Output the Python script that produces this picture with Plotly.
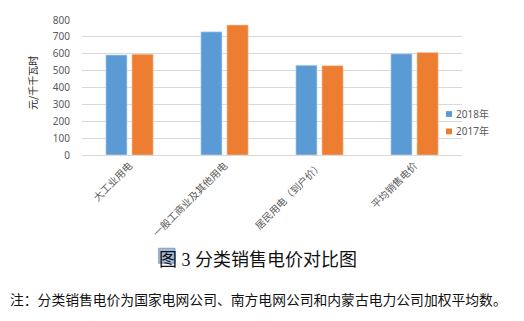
import plotly.graph_objects as go

categories = ["大工业用电", "一般工商业及其他用电", "居民用电（到户价）", "平均销售电价"]
values_2018 = [593, 730, 532, 600]
values_2017 = [597, 770, 529, 607]
series_names = ["2018年", "2017年"]
y_ticks = [0, 100, 200, 300, 400, 500, 600, 700, 800]

BLUE = "#5b9bd5"
ORANGE = "#ed7d31"
CJK = "Noto Sans CJK SC"

fig = go.Figure()
fig.add_trace(go.Bar(x=categories, y=values_2018, name=series_names[0], marker=dict(color=BLUE, line=dict(color="#cfe0f3", width=0.6)), showlegend=False))
fig.add_trace(go.Bar(x=categories, y=values_2017, name=series_names[1], marker=dict(color=ORANGE, line=dict(color="#f7c9aa", width=0.6)), showlegend=False))

W, H = 524, 321
L, R, T, B = 82, 62, 15, 166
ph = H - T - B
pw = W - L - R

def py(ypix):
    return (H - B - ypix) / ph

def px(xpix):
    return (xpix - L) / pw

fig.update_layout(
    width=W, height=H,
    margin=dict(l=L, r=R, t=T, b=B),
    paper_bgcolor="white", plot_bgcolor="white",
    barmode="group", bargap=0.45, bargroupgap=0.19,
    font=dict(family=CJK, color="#595959", size=10),
    showlegend=False,
    xaxis=dict(type="category", showgrid=False, showline=True, linecolor="#d9d9d9", linewidth=1,
               tickangle=-45, tickfont=dict(family=CJK, size=10, color="#595959"),
               ticks="", range=[-0.5, 3.5]),
    yaxis=dict(range=[0, 800], tickvals=y_ticks, showgrid=True, gridcolor="#d9d9d9", gridwidth=1,
               zeroline=False, showline=False, ticks="", ticklabelstandoff=11,
               tickfont=dict(family="Noto Sans", size=10, color="#595959")),
)

# legend (small squares + labels)
legend_colors = [BLUE, ORANGE]
for i, (nm, col) in enumerate(zip(series_names, legend_colors)):
    yc = 112.5 + 18 * i
    fig.add_shape(type="rect", xref="paper", yref="paper", x0=px(446), x1=px(452),
                  y0=py(yc + 3), y1=py(yc - 3), fillcolor=col, line=dict(width=0))
    fig.add_annotation(text=nm, xref="paper", yref="paper", x=px(453.5), y=py(yc),
                       showarrow=False, xanchor="left", yanchor="middle",
                       font=dict(family="Noto Sans, " + CJK, size=10, color="#595959"))

# y-axis title
fig.add_annotation(text="元/千千瓦时", xref="paper", yref="paper", x=px(33), y=py(80),
                   showarrow=False, textangle=-90, xanchor="center", yanchor="middle",
                   font=dict(family=CJK, size=10, color="#262626"))

# highlight box behind first char of caption
fig.add_shape(type="rect", xref="paper", yref="paper", x0=px(158.7), x1=px(175), y0=py(267.3), y1=py(251.7),
              fillcolor="#a3bcdc", line=dict(width=0.8, color="#6f8fb8"), layer="below")

# caption
fig.add_annotation(text="图 3 分类销售电价对比图", xref="paper", yref="paper", x=px(257.5), y=py(264),
                   showarrow=False, xanchor="center", yanchor="middle",
                   font=dict(family="Liberation Serif, " + CJK, size=18, color="#111111"))
# note
fig.add_annotation(text="注：分类销售电价为国家电网公司、南方电网公司和内蒙古电力公司加权平均数。",
                   xref="paper", yref="paper", x=px(258), y=py(304),
                   showarrow=False, xanchor="center", yanchor="middle",
                   font=dict(family=CJK, size=13.8, color="#111111"))

fig.write_html("out.html")
